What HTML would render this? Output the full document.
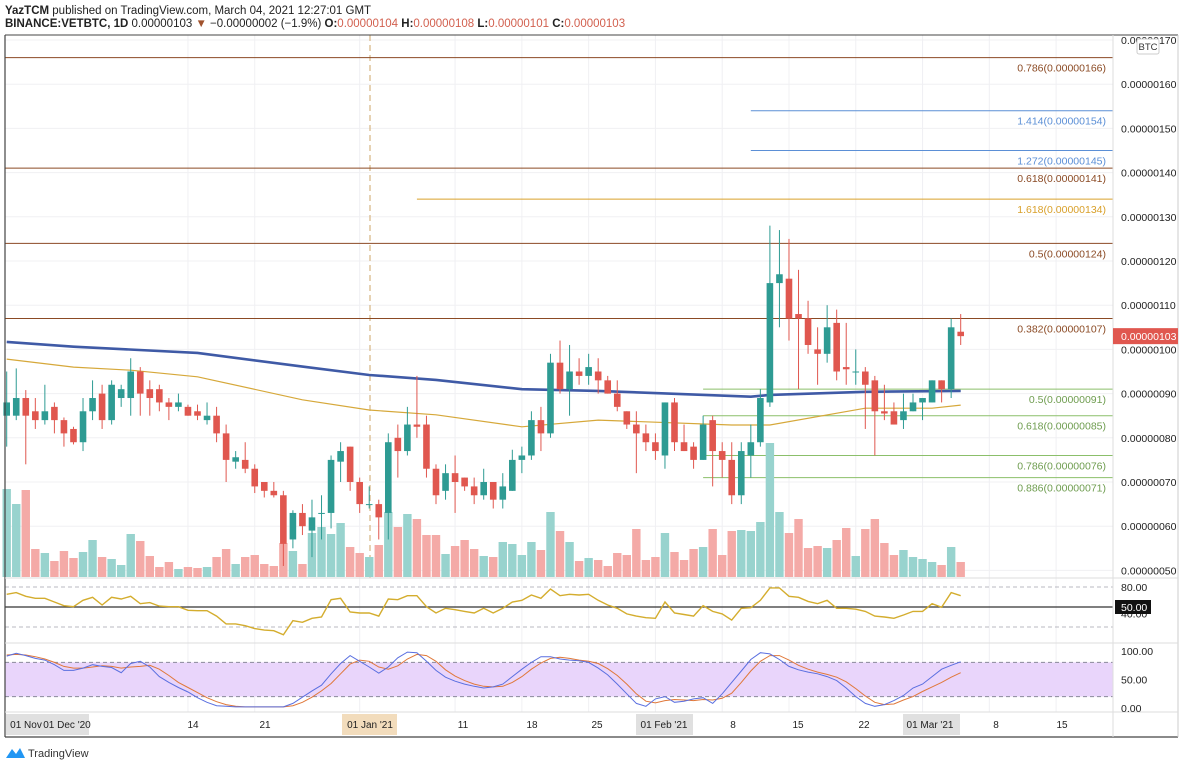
<!DOCTYPE html>
<html><head><meta charset="utf-8"><style>
html,body{margin:0;padding:0;background:#fff;width:1186px;height:768px;overflow:hidden;font-family:"Liberation Sans",sans-serif}
svg text{font-family:"Liberation Sans",sans-serif}
</style></head><body>
<svg id="c" width="1186" height="768" viewBox="0 0 1186 768" xmlns="http://www.w3.org/2000/svg">
<text x="5" y="14" font-size="11.5" fill="#222"><tspan font-weight="bold">YazTCM</tspan> published on TradingView.com, March 04, 2021 12:27:01 GMT</text>
<text x="5" y="27" font-size="11.5" fill="#222"><tspan font-weight="bold">BINANCE:VETBTC, 1D</tspan> 0.00000103 <tspan fill="#a0522d">▼</tspan> −0.00000002 (−1.9%) <tspan font-weight="bold">O:</tspan><tspan fill="#d2604f">0.00000104</tspan> <tspan font-weight="bold">H:</tspan><tspan fill="#d2604f">0.00000108</tspan> <tspan font-weight="bold">L:</tspan><tspan fill="#d2604f">0.00000101</tspan> <tspan font-weight="bold">C:</tspan><tspan fill="#d2604f">0.00000103</tspan></text>
<g id="grid"></g>
<g id="fib"></g>
<g id="vol"></g>
<g id="ma"></g>
<g id="candles"></g>
<g id="rsi"></g>
<g id="stoch"></g>
<g id="axes"></g>
<g>
<path d="M6 758 L12 749 L16 754 L20 748 L25 758 Z" fill="#2196f3"/>
<text x="28" y="757" font-size="11" fill="#333">TradingView</text>
</g>
</svg>
<script>
const O=[85,85,89,86,84,87,84,82,79,86,90,84,89,89,95,91,91,88,87,87,86,84,85,81,74.6,75,73,70,68,67,57,63,59,63,63,74.6,78,70,65,65,63,80,77,83,83,73,68,72,71,69,67,70,66,68,75,76,84,81,97,91,95,94,95,93,90,86,83,81,79,76,88,79,78,75,84,77,75,67,76,79,88,115,116,108,107,100,99,106,96,95,95,93,86,86,84,86,88,88,93,91,104];
const H=[95,95.7,90.8,89,92,88,84.6,82.5,89,93,92,93,92,98,96,93,92,89,90,87.5,87.5,88,87,83,77,79,74,70,70,68,63.6,65,66,67,76,79,78,71,69,66,81,83,87,94,85,74,74,76,71,71,73,70,72,77.3,78,86,87,99,102,101,98,99,98,94,93,86,86,83,81,88,89,83,79,85,85,79,79,79,83,91,128,127,125,118,111,105,110,109,106,100,96,94,92,88,90,90,89,93,93,107,108];
const L=[78,84,74,82,83,81,78,78.5,77,84,82,83,87,85,85,85,86,84,86,85,84,83,79,70,73,72,67.5,66.5,66.5,51,55,58,53,57,59.5,70,68,63,64,57,57,71,76,80,71,65,66,63,68,65,66,64,64,68,72,75,77,80,90,85,92,92,90,90,86,82,72,77,75,73,77,77,73,75,69,71,65,65,71,78,87,105,102,91,99,92,97,93,92,92,82,76,84,83,82,86,84,88,88,89,101];
const C=[88,89,85,84,86,84,81,79,86,89,84,92,91,95,90,89,88,87,88,85,85,85,81,75,75.6,73,69,68,67,56,63,60,62,63,75,77,70,65,65,62,79,77,83,82.5,73,67,72,70,69,67,70,66,69,75,76,84,81,97,91,95,94,96,93,90,87,83,81,79,77,88,79,77,75,83,77,75,67,77,79,89,115,117,107,107,101,99,105,95,95.5,95,92,86,85.5,83,86,88,89,93,91,105,103];
const VOL=[88,73,87,28,24,16,26,19,25,37,20,18,12,43,36,21,10,15,8,10,9,10,20,28,13,20,22,13,11,34,26,13,44,50,43,54,30,24,20,32,65,50,63,58,42,42,23,31,37,28,21,20,35,33,22,35,27,65,46,35,16,19,17,11,24,22,48,17,20,44,25,17,28,30,48,22,46,47,46,55,134,65,44,58,29,31,29,37,49,21,48,58,34,22,27,20,18,15,12,30,15];
const RSI=[69,71.6,66,63,63,57.5,52,50.5,60,64.5,53,64.5,62,66,55,56.6,51.4,50.5,50.5,45,44.4,44.4,36.4,24.7,24.7,22,17.6,15.3,14.4,8.3,29.4,27,33,35,61,63,42.5,41,41,36.4,62,61,67,67,50.5,41,48,46,43.4,41,48,41,48,57.5,60,68,63,77,67,69,68,69,60,53,48,39.7,36.4,34,33,57.5,41,38.7,36.4,52,43.4,39.7,30.3,48,49,60,78.6,78.6,66,64.5,58.4,55,60,48,48,46.7,43.4,36.4,35,33,38,43.4,43.4,55,49.5,71.6,67];
const STOCH_K=[91,96,92,87,84,76,66,66,70,76,73,71,62,78,82,72,55,45,36,28,18,10,4,3,2,2,2,2,2,2,8,19,30,40,60,78,92,82,72,61,72,88,98,97,82,66,54,47,42,38,35,37,42,55,68,80,90,90,86,84,83,80,70,58,42,25,8,3,16,20,10,12,16,18,8,25,45,65,85,97,95,85,73,67,63,60,55,48,35,20,8,3,6,13,22,35,42,55,68,75,81];
const STOCH_D=[93,94,93,90,86,80,73,70,70,72,74,73,70,72,73,75,68,57,45,36,27,18,11,6,3,2,2,2,2,2,4,10,19,30,43,60,77,84,82,72,68,74,86,94,92,82,67,56,48,42,38,37,38,45,55,68,79,87,89,87,84,82,78,69,57,42,25,12,9,13,15,14,13,15,14,17,26,45,65,82,92,92,84,75,68,63,59,54,46,34,21,10,6,7,14,20,29,37,45,54,62];
const MA200_IDX=[0,7,20,31,38,45,54,62,78,80,90,100];
const MA200_VAL=[101.7,100.6,99.2,96.1,94.2,93.1,91.0,90.6,89.3,89.7,90.4,90.6];
const MA100_IDX=[0,7,13,20,31,38,45,54,62,76,80,90,97,100];
const MA100_VAL=[97.8,96,95.3,93.8,88.6,86.3,85.2,82.5,84.0,82.9,82.9,86.7,86.7,87.4];
const PRICE_TICKS=[170,160,150,140,130,120,110,100,90,80,70,60,50];
const FIB_PRICE=[166,154,145,141,134,124,107,91,85,76,71];
const FIB_LABEL=["0.786","1.414","1.272","0.618","1.618","0.5","0.382","0.5","0.618","0.786","0.886"];
const FIB_START=[0,78,78,0,43,0,0,73,73,73,73];
const FIB_COLOR=["#8b4a24","#5b8fd6","#5b8fd6","#8b4a24","#d9a02a","#8b4a24","#8b4a24","#8bbf6a","#8bbf6a","#8bbf6a","#8bbf6a"];
const DATE_LABELS=["01 Nov","01 Dec '20","14","21","01 Jan '21","11","18","25","01 Feb '21","8","15","22","01 Mar '21","8","15"];
const DATE_IDX=[-4,6,19,26,37,47,54,61,68,75,82,89,96,103,110];

const NS="http://www.w3.org/2000/svg";
const X0=6.7, DX=9.54, CHART_R=1113;
const xs=k=>X0+DX*k;
const yp=p=>40+(170-p)*4.42;
const yr=v=>607-(v-50)*0.667;
const ys=v=>708-v*0.57;
const fmt=p=>'0.00000'+String(p).padStart(3,'0');
function mk(tag,attrs,parent){const e=document.createElementNS(NS,tag);for(const k in attrs)e.setAttribute(k,attrs[k]);document.getElementById(parent).appendChild(e);return e;}

PRICE_TICKS.forEach(p=>{const e=mk('line',{x1:5,x2:CHART_R,y1:yp(p),y2:yp(p),stroke:'#f0f0f3','stroke-width':1},'grid');

});
DATE_IDX.forEach((d,i)=>{if(i<2)return;const x=xs(d);const e=mk('line',{x1:x,x2:x,y1:35,y2:712,stroke:'#f0f0f3','stroke-width':1},'grid');

});
{const x=370;const e=mk('line',{x1:x,x2:x,y1:35,y2:578,stroke:'#d9b98a','stroke-width':1.3,'stroke-dasharray':'6,4'},'grid');

}

FIB_PRICE.forEach((p,i)=>{const y=yp(p);
const l=mk('line',{x1:FIB_START[i]===0?5:xs(FIB_START[i]),x2:CHART_R,y1:y,y2:y,stroke:FIB_COLOR[i],'stroke-width':1},'fib');


const t=mk('text',{x:1106,y:y+14,'text-anchor':'end','font-size':10.5,fill:FIB_COLOR[i]==='#8bbf6a'?'#6f9d50':FIB_COLOR[i]},'fib');
t.textContent=FIB_LABEL[i]+'('+fmt(p)+')';

});

VOL.forEach((v,k)=>{const up=C[k]>=O[k];const e=mk('rect',{x:xs(k)-4.2,y:577-v,width:8.4,height:v,fill:up?'#98d3ce':'#f4aaa7'},'vol');

});

function maLine(idx,val,color,w,name){const pts=idx.map((k,i)=>xs(k).toFixed(1)+','+yp(val[i]).toFixed(1)).join(' ');
const e=mk('polyline',{points:pts,fill:'none',stroke:color,'stroke-width':w},'ma');

}
maLine(MA100_IDX,MA100_VAL,'#d6a83a',1.2,'ma-100-line');
maLine(MA200_IDX,MA200_VAL,'#3f5aa6',2.6,'ma-200-line');

O.forEach((o,k)=>{const c=C[k];const up=c>=o;const col=up?'#2e9b93':'#e0574f';const x=xs(k);
const w=mk('line',{x1:x,x2:x,y1:yp(H[k]),y2:yp(L[k]),stroke:col,'stroke-width':1},'candles');


const top=yp(Math.max(o,c)),bot=yp(Math.min(o,c));
const b=mk('rect',{x:x-3.3,y:top,width:6.6,height:Math.max(1,bot-top),fill:col},'candles');

});

[80,20].forEach(v=>{const e=mk('line',{x1:5,x2:CHART_R,y1:yr(v),y2:yr(v),stroke:'#b8b8c0','stroke-dasharray':'4,3'},'rsi');

});
{const e=mk('line',{x1:5,x2:CHART_R,y1:yr(50),y2:yr(50),stroke:'#333','stroke-width':1.3},'rsi');

}
{const e=mk('polyline',{points:RSI.map((v,k)=>xs(k).toFixed(1)+','+yr(v).toFixed(1)).join(' '),fill:'none',stroke:'#d4ad2e','stroke-width':1.4},'rsi');

}

{const e=mk('rect',{x:5,y:ys(80),width:CHART_R-5,height:ys(20)-ys(80),fill:'#e9d5fb'},'stoch');

}
[80,20].forEach(v=>{const e=mk('line',{x1:5,x2:CHART_R,y1:ys(v),y2:ys(v),stroke:'#8a8a9a','stroke-dasharray':'4,3'},'stoch');

});
{const e=mk('polyline',{points:STOCH_D.map((v,k)=>xs(k).toFixed(1)+','+ys(v).toFixed(1)).join(' '),fill:'none',stroke:'#e0783a','stroke-width':1},'stoch');

}
{const e=mk('polyline',{points:STOCH_K.map((v,k)=>xs(k).toFixed(1)+','+ys(v).toFixed(1)).join(' '),fill:'none',stroke:'#5a6fe0','stroke-width':1},'stoch');

}

function ln(x1,y1,x2,y2,c,w,name){const e=mk('line',{x1,y1,x2,y2,stroke:c,'stroke-width':w},'axes');

}
ln(5,35,1178,35,'#444',1,'frame-top');
ln(5,35,5,737,'#444',1.2,'frame-left');
ln(5,737,1178,737,'#444',1.2,'frame-bottom');
ln(1178,35,1178,737,'#ccc',1,'frame-right');
ln(CHART_R,35,CHART_R,737,'#ddd',1,'price-axis-border');
ln(5,578,1178,578,'#ddd',1,'pane-divider-rsi');
ln(5,643,1178,643,'#ddd',1,'pane-divider-stoch');
ln(5,712,1178,712,'#ddd',1,'date-axis-border');
PRICE_TICKS.forEach(p=>{const t=mk('text',{x:1121,y:yp(p)+4,'font-size':10.5,fill:'#222'},'axes');
t.textContent=fmt(p);

});
{const r=mk('rect',{x:1137,y:39,width:22,height:15,fill:'#fff',stroke:'#ccc',rx:2},'axes');


const t=mk('text',{x:1148,y:50,'text-anchor':'middle','font-size':9.5,fill:'#333'},'axes');t.textContent='BTC';

}
{const y=yp(103);const r=mk('rect',{x:1113,y:y-8,width:65,height:16,fill:'#e0574f'},'axes');


const t=mk('text',{x:1121,y:y+4,'font-size':10.5,fill:'#fff'},'axes');t.textContent='0.00000103';

}
[[80,'80.00'],[40,'40.00']].forEach(a=>{const t=mk('text',{x:1121,y:yr(a[0])+4,'font-size':10.5,fill:'#222'},'axes');t.textContent=a[1];

});
{const r=mk('rect',{x:1115,y:yr(50)-7,width:36,height:14,fill:'#111'},'axes');


const t=mk('text',{x:1121,y:yr(50)+4,'font-size':10.5,fill:'#fff'},'axes');t.textContent='50.00';

}
[[100,'100.00'],[50,'50.00'],[0,'0.00']].forEach(a=>{const t=mk('text',{x:1121,y:ys(a[0])+4,'font-size':10.5,fill:'#222'},'axes');t.textContent=a[1];

});
{const r=mk('rect',{x:6,y:714,width:83,height:21,fill:'#e0e0e0'},'axes');

}
{const r=mk('rect',{x:342,y:714,width:55,height:21,fill:'#f2dcbc'},'axes');

}
{const r=mk('rect',{x:636,y:714,width:57,height:21,fill:'#e0e0e0'},'axes');

}
{const r=mk('rect',{x:903,y:714,width:57,height:21,fill:'#e0e0e0'},'axes');

}
const DATE_X=[26,67,193,265,370,463,532,597,664,733,798,864,930,996,1062];
DATE_LABELS.forEach((s,i)=>{const t=mk('text',{x:DATE_X[i],y:728,'text-anchor':'middle','font-size':10,fill:'#222'},'axes');t.textContent=s;

});
</script>
</body></html>
